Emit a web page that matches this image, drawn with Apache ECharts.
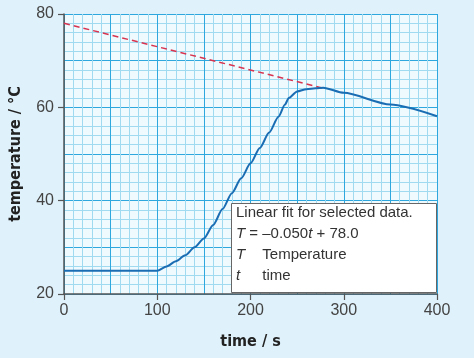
<!DOCTYPE html>
<html><head><meta charset="utf-8">
<script src="https://cdn.jsdelivr.net/npm/echarts@6/dist/echarts.min.js"></script>
<style>html,body{margin:0;padding:0;background:#dff1fa;}#c{width:474px;height:358px;}</style>
</head><body><div id="c"></div>
<script>
// Data
const curveTime = [0, 100, 110, 120, 130, 140, 150, 160, 170, 180, 190, 200, 210, 220, 230, 237, 241, 250, 260, 270, 278, 300, 350, 400];
const curveTemp = [25, 25, 25.9, 27, 28.3, 30, 31.9, 34.8, 38.2, 41.6, 44.8, 48, 51.3, 54.6, 58, 60.6, 62, 63.4, 63.9, 64.1, 64.2, 63.1, 60.6, 58.1];
const fitTime = [0, 278];
const fitTemp = [78.0, 64.1];
const xTicks = [0, 100, 200, 300, 400];
const yTicks = [20, 40, 60, 80];
const legendLines = ['Linear fit for selected data.', 'T = –0.050t + 78.0', 'T  Temperature', 't  time'];

const chart = echarts.init(document.getElementById('c'), null, {renderer: 'canvas'});
const font = '"Liberation Sans", Arial, sans-serif';
const nameFont = '"Liberation Sans Narrow", "DejaVu Sans Condensed", sans-serif';
const axisCol = '#555';
const gridBox = {left: 64, right: 37, top: 14, bottom: 64};

const option = {
  backgroundColor: '#dff1fa',
  animation: false,
  grid: Object.assign({show: true, backgroundColor: '#eefafe', borderWidth: 0}, gridBox),
  xAxis: [
    { type: 'value', min: 0, max: 400, interval: 50,
      axisLine: {show: false}, axisTick: {show: false}, axisLabel: {show: false},
      splitLine: {show: true, lineStyle: {color: '#2ea7de', width: 1}},
      minorTick: {show: false, splitNumber: 5},
      minorSplitLine: {show: true, lineStyle: {color: '#9fdaf1', width: 1}} },
    { type: 'value', min: xTicks[0], max: xTicks[xTicks.length-1], interval: 100, position: 'bottom',
      axisLine: {show: true, onZero: false, lineStyle: {color: axisCol, width: 1.5}},
      axisTick: {show: true, inside: false, length: 6, lineStyle: {color: axisCol, width: 1.2}},
      axisLabel: {color: '#444', fontSize: 16, fontFamily: font, margin: 9},
      splitLine: {show: false},
      name: 'time / s', nameLocation: 'middle', nameGap: 40,
      nameTextStyle: {fontFamily: nameFont, fontWeight: 'bold', fontSize: 16, color: '#222'} }
  ],
  yAxis: [
    { type: 'value', min: 20, max: 80, interval: 10,
      axisLine: {show: false}, axisTick: {show: false}, axisLabel: {show: false},
      splitLine: {show: true, lineStyle: {color: '#2ea7de', width: 1}},
      minorTick: {show: false, splitNumber: 5},
      minorSplitLine: {show: true, lineStyle: {color: '#9fdaf1', width: 1}} },
    { type: 'value', min: yTicks[0], max: yTicks[yTicks.length-1], interval: 20, position: 'left',
      axisLine: {show: true, onZero: false, lineStyle: {color: axisCol, width: 1.5}},
      axisTick: {show: true, inside: false, length: 6, lineStyle: {color: axisCol, width: 1.2}},
      axisLabel: {color: '#444', fontSize: 16, fontFamily: font, margin: 10},
      splitLine: {show: false},
      name: 'temperature / °C', nameLocation: 'middle', nameGap: 40, nameRotate: 90,
      nameTextStyle: {fontFamily: nameFont, fontWeight: 'bold', fontSize: 16, color: '#222'} }
  ],
  series: [
    { type: 'line', xAxisIndex: 1, yAxisIndex: 1, z: 5,
      data: fitTime.map((t, i) => [t, fitTemp[i]]),
      showSymbol: false, lineStyle: {color: '#d8334f', width: 1.5, type: [6, 4]} },
    { type: 'line', xAxisIndex: 1, yAxisIndex: 1, z: 6,
      data: curveTime.map((t, i) => [t, curveTemp[i]]),
      smooth: 0.25, smoothMonotone: 'x',
      showSymbol: false, lineStyle: {color: '#1a6db3', width: 2} }
  ],
  graphic: [
    { type: 'rect', left: 231, top: 203, z: 100,
      shape: {width: 205, height: 89},
      style: {fill: '#ffffff', stroke: '#666', lineWidth: 1} },
    { type: 'text', left: 236, top: 205, z: 101,
      style: {text: legendLines[0], font: '15px ' + font, fill: '#333'} },
    { type: 'text', left: 236, top: 226, z: 101,
      style: {text: '{i|T} = –0.050{i|t} + 78.0', font: '15px ' + font, fill: '#333',
        rich: {i: {fontStyle: 'italic', fontSize: 15, fontFamily: font, fill: '#333', color: '#333'}}} },
    { type: 'text', left: 236, top: 247, z: 101,
      style: {text: '{i|T}  Temperature', font: '15px ' + font, fill: '#333',
        rich: {i: {fontStyle: 'italic', fontSize: 15, fontFamily: font, color: '#333', width: 18}}} },
    { type: 'text', left: 236, top: 268, z: 101,
      style: {text: '{i|t}  time', font: '15px ' + font, fill: '#333',
        rich: {i: {fontStyle: 'italic', fontSize: 15, fontFamily: font, color: '#333', width: 18}}} }
  ]
};
chart.setOption(option);
</script></body></html>
